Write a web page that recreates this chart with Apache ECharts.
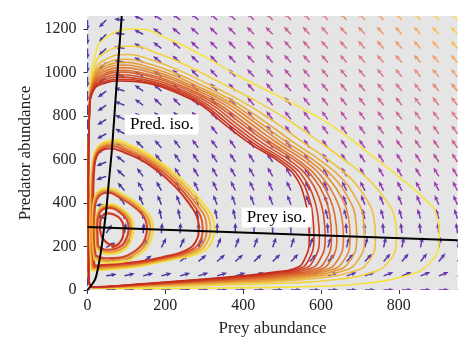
<!DOCTYPE html>
<html><head><meta charset="utf-8">
<script src="https://cdn.jsdelivr.net/npm/echarts@6/dist/echarts.min.js"></script>
<style>html,body{margin:0;padding:0;background:#fff}#c{width:474px;height:361px}</style>
</head><body><div id="c"></div>
<script>
// ---------- data ----------
const xTicks=[0,200,400,600,800];
const yTicks=[0,200,400,600,800,1000,1200];
const xAxisMax=951, yAxisMax=1259;

// vector field grid (columns / rows) and per-cell direction (deg) and speed level
const arrowX=[0,48,95,143,190,238,285,333,380,428,476,523,571,618,666,713,761,808,856,903,951];
const arrowY=[0,65,131,196,261,327,392,457,522,588,653,718,784,849,914,980,1045,1110,1175,1241];
const arrowAngle=[
[null,0,0,0,0,0,0,0,0,0,0,0,0,0,0,0,0,0,0,0,0],
[270,9,13,15,15,16,17,17,17,18,18,18,19,19,19,20,20,21,21,21,22],
[270,17,30,35,37,39,40,41,42,43,44,45,46,47,48,48,49,50,51,52,53],
[270,27,54,60,63,65,67,68,69,70,71,72,73,74,75,76,77,78,79,80,80],
[270,56,82,85,86,87,88,89,90,90,91,92,92,93,94,94,95,96,96,97,98],
[270,162,105,102,102,102,102,102,103,103,103,104,104,105,105,105,106,106,107,107,108],
[270,184,120,114,112,111,111,111,111,111,111,111,112,112,112,112,113,113,113,114,114],
[270,192,131,122,119,117,117,116,116,116,116,116,116,117,117,117,117,117,118,118,118],
[270,198,138,127,124,122,121,120,120,120,120,120,120,120,120,120,120,120,121,121,121],
[270,202,143,132,128,125,124,124,123,123,123,123,123,123,123,123,123,123,123,123,123],
[270,206,148,135,131,128,127,126,125,125,125,125,125,125,125,125,125,125,125,125,125],
[270,209,152,138,133,130,129,128,127,127,127,126,126,126,126,126,126,126,126,126,126],
[270,212,155,141,135,132,131,130,129,128,128,128,128,128,127,127,127,127,127,127,127],
[270,215,159,143,137,134,132,131,130,130,129,129,129,129,129,128,128,128,128,128,128],
[270,217,162,145,139,135,134,132,131,131,130,130,130,130,129,129,129,129,129,129,129],
[270,219,164,147,140,137,135,133,132,132,131,131,131,130,130,130,130,130,130,130,130],
[270,222,167,149,142,138,136,134,133,133,132,132,131,131,131,131,131,131,131,131,131],
[270,224,170,150,143,139,137,135,134,133,133,132,132,132,132,132,131,131,131,131,131],
[270,226,172,152,144,140,138,136,135,134,134,133,133,132,132,132,132,132,132,132,132],
[270,227,175,154,145,141,139,137,136,135,134,134,133,133,133,133,132,132,132,132,132]];
const arrowSpeed=[
[0,1,3,4,5,7,8,9,10,11,12,13,14,15,16,17,18,19,20,21,22],
[0,1,2,3,4,5,6,7,8,9,10,11,11,12,13,14,14,15,16,16,17],
[0,1,2,3,3,4,5,6,7,8,8,9,10,11,11,12,13,13,14,15,15],
[1,1,1,2,3,4,5,6,7,8,9,10,11,12,13,14,15,16,17,17,18],
[1,0,1,3,4,5,6,8,9,10,11,13,14,15,16,18,19,20,22,23,24],
[2,0,2,3,5,6,8,10,11,13,15,16,18,20,21,23,25,26,28,30,31],
[2,1,2,4,6,8,10,12,14,16,18,20,22,24,26,28,31,33,35,37,39],
[2,1,3,5,7,10,12,15,17,19,22,24,27,29,32,34,37,39,42,44,47],
[3,1,3,6,9,11,14,17,20,23,26,28,31,34,37,40,43,46,49,52,55],
[3,2,4,7,10,13,16,20,23,26,29,33,36,39,43,46,50,53,56,60,63],
[4,2,4,8,11,15,18,22,26,30,33,37,41,45,48,52,56,60,64,68,71],
[5,2,5,9,13,17,21,25,29,33,37,41,46,50,54,58,63,67,71,75,80],
[5,3,5,9,14,18,23,27,32,37,41,46,50,55,60,64,69,74,79,83,88],
[6,3,6,10,15,20,25,30,35,40,45,50,55,60,65,70,75,80,86,91,96],
[7,4,6,11,16,22,27,32,38,43,49,54,60,65,71,76,82,87,93,99,104],
[8,4,7,12,18,23,29,35,41,47,53,59,64,70,76,82,88,94,101,107,113],
[8,5,8,13,19,25,31,37,44,50,56,63,69,75,82,88,95,101,108,114,121],
[9,6,8,14,20,27,33,40,47,53,60,67,74,81,87,94,101,108,115,122,129],
[10,6,9,15,21,28,35,42,50,57,64,71,78,86,93,100,108,115,122,130,137],
[11,7,9,16,23,30,37,45,52,60,68,75,83,91,98,106,114,122,130,138,146]];

// large family of orbits (outer yellow -> inner red)
const big1=[[3,60],[14,8],[186,7],[400,11],[597,17],[708,30],[811,62],[880,125],[904,243],[897,345],[865,420],[811,505],[740,605],[673,698],[597,790],[494,888],[392,980],[304,1069],[218,1145],[125,1199],[48,1161],[20,1080],[5,852],[2,500],[3,60]];
const big2=[[3,60],[13,10],[174,15],[367,24],[532,33],[633,47],[718,74],[773,127],[794,243],[788,343],[764,420],[724,505],[662,595],[589,690],[515,782],[427,875],[339,955],[259,1028],[186,1083],[112,1120],[45,1091],[18,1026],[5,841],[2,500],[3,60]];
const big3=[[3,60],[13,11],[168,18],[351,30],[500,41],[596,55],[673,80],[721,127],[740,243],[735,343],[716,420],[681,505],[625,590],[548,686],[476,778],[395,869],[313,943],[237,1008],[170,1053],[105,1082],[44,1057],[18,999],[5,836],[2,500],[3,60]];
const big4=[[3,60],[13,11],[165,20],[342,34],[483,45],[576,60],[648,83],[692,128],[712,243],[708,342],[690,420],[658,505],[604,588],[525,684],[454,776],[377,866],[298,937],[225,997],[161,1037],[102,1060],[43,1037],[17,984],[5,833],[2,500],[3,60]];
const big5=[[3,60],[13,12],[163,22],[336,36],[471,48],[562,63],[631,85],[672,128],[692,243],[688,342],[671,420],[639,505],[588,588],[509,683],[439,774],[365,864],[288,932],[216,990],[155,1025],[99,1046],[43,1025],[17,974],[5,832],[2,500],[3,60]];
const big6=[[3,60],[13,12],[161,23],[331,38],[461,51],[551,66],[617,87],[656,128],[675,243],[670,342],[654,420],[623,505],[575,587],[496,681],[427,773],[355,862],[280,928],[209,983],[150,1016],[97,1034],[42,1014],[17,966],[5,830],[2,500],[3,60]];
const big7=[[3,60],[13,12],[159,24],[326,40],[451,53],[539,68],[603,89],[640,129],[658,243],[653,341],[638,420],[609,505],[563,586],[484,680],[414,772],[345,860],[272,925],[203,977],[145,1007],[95,1022],[42,1003],[16,958],[5,828],[2,500],[3,60]];
const big8=[[3,60],[12,13],[158,25],[321,42],[441,56],[528,71],[589,90],[623,129],[641,243],[636,341],[623,420],[596,505],[551,584],[471,679],[402,770],[334,858],[264,921],[196,971],[141,997],[93,1010],[42,993],[16,950],[5,827],[2,500],[3,60]];
const big9=[[3,60],[12,13],[156,26],[317,43],[433,58],[519,73],[578,92],[610,129],[627,243],[623,341],[611,420],[585,505],[542,583],[461,678],[392,769],[326,856],[258,918],[190,966],[137,990],[92,1001],[41,984],[16,943],[5,825],[2,500],[3,60]];
const big10=[[3,60],[12,13],[154,27],[312,45],[424,60],[507,76],[564,94],[594,129],[611,243],[607,341],[596,420],[572,505],[530,582],[448,677],[380,768],[316,855],[249,914],[183,960],[132,980],[90,989],[41,974],[16,935],[5,824],[2,500],[3,60]];
const big11=[[3,60],[12,14],[153,28],[308,47],[415,62],[497,78],[551,95],[579,130],[596,243],[592,340],[582,420],[560,505],[520,580],[436,676],[369,767],[307,853],[242,911],[177,954],[127,972],[88,978],[41,964],[15,927],[5,822],[2,500],[3,60]];
const big12=[[3,60],[12,14],[151,29],[303,49],[407,64],[488,80],[540,97],[566,130],[582,243],[579,340],[570,420],[549,505],[510,579],[426,675],[359,766],[299,851],[236,908],[172,949],[123,965],[86,968],[40,955],[15,921],[5,821],[2,500],[3,60]];
const big13=[[3,60],[12,14],[150,30],[300,50],[400,66],[480,82],[530,98],[555,130],[570,244],[567,340],[558,420],[540,505],[502,578],[417,674],[350,765],[292,850],[230,905],[167,945],[120,958],[85,960],[40,948],[15,915],[5,820],[2,500],[3,60]];

// middle family
const mid1=[[10,90],[60,95],[130,108],[209,137],[286,169],[317,215],[326,290],[320,340],[304,382],[253,490],[167,612],[110,665],[72,689],[45,682],[25,655],[14,600],[9,450],[7,250],[10,90]];
const mid2=[[12,96],[60,101],[130,114],[204,140],[277,172],[307,217],[316,290],[310,340],[295,382],[246,486],[163,605],[106,657],[69,679],[43,672],[25,646],[15,592],[10,450],[9,250],[12,96]];
const mid3=[[14,101],[60,106],[130,119],[200,144],[268,175],[298,218],[306,290],[301,339],[286,381],[239,482],[159,598],[102,648],[65,670],[41,662],[25,638],[16,585],[12,450],[10,250],[14,101]];
const mid4=[[16,106],[60,112],[130,124],[195,147],[259,177],[288,220],[296,289],[291,338],[277,380],[232,479],[154,592],[99,640],[62,660],[40,653],[25,629],[17,578],[13,450],[12,250],[16,106]];
const mid5=[[18,112],[60,118],[130,130],[190,150],[250,180],[278,222],[286,289],[281,338],[268,380],[225,475],[150,585],[95,632],[58,650],[38,643],[25,620],[18,570],[15,450],[14,250],[18,112]];

// small family near the equilibrium
const smallA1=[[18,140],[45,126],[90,130],[130,160],[158,210],[168,285],[160,340],[130,395],[90,440],[55,468],[35,462],[20,430],[14,370],[13,250],[18,140]];
const smallA2=[[20,149],[45,136],[87,140],[125,168],[151,215],[161,285],[153,337],[125,389],[87,431],[54,457],[36,452],[21,422],[16,365],[15,252],[20,149]];
const smallA3=[[21,158],[45,146],[85,149],[120,176],[144,220],[153,286],[146,334],[120,382],[85,422],[54,447],[36,441],[23,413],[18,360],[17,255],[21,158]];
const smallB1=[[24,185],[50,165],[80,172],[105,205],[118,285],[112,330],[90,370],[60,393],[40,388],[27,360],[21,300],[22,230],[24,185]];
const smallB2=[[26,193],[50,175],[77,181],[100,212],[112,285],[107,327],[86,364],[59,385],[40,380],[28,354],[23,299],[24,235],[26,193]];
const smallB3=[[27,202],[49,185],[74,191],[95,219],[106,286],[101,324],[83,357],[58,377],[41,372],[30,349],[25,298],[26,240],[27,202]];
const smallC=[[62,196],[80,212],[91,245],[93,285],[86,323],[68,347],[49,352],[37,337],[32,300],[34,258],[44,226],[58,208],[72,204],[82,214]];

// isoclines
const preyIso=[[0,289],[951,229]];
const predIso=[[0,0],[10,22],[20,50],[27,100],[33,160],[38,220],[43,290],[49,382],[55,500],[63,650],[75,950],[88,1259]];
const isoLabels=[{name:'Pred. iso.',value:[191,761]},{name:'Prey iso.',value:[486,333]}];

// ---------- styling ----------
const bigLoops=[big1,big2,big3,big4,big5,big6,big7,big8,big9,big10,big11,big12,big13];
const bigColors=['#f5e43c','#f1d33e','#edbd3e','#e9aa3b','#e69b38','#e38c35','#e07d32','#dc6e2e','#d8602b','#d45228','#cf4424','#ca3821','#c42d1e'];
const midLoops=[mid1,mid2,mid3,mid4,mid5];
const midColors=['#f4de3e','#eeb43c','#e58a34','#da5a2a','#cc3220'];
const smallLoops=[smallA1,smallA2,smallA3,smallB1,smallB2,smallB3,smallC];
const smallColors=['#f3da3e','#e7993a','#d2472a','#f3da3e','#e7993a','#d2472a','#cf3a20'];

const plasmaStops=['#0d0887','#41049d','#6a00a8','#8f0da4','#b12a90','#cc4778','#e16462','#f2844b','#fca636','#fcce25','#f0f921'];
function hex2rgb(h){return [parseInt(h.slice(1,3),16),parseInt(h.slice(3,5),16),parseInt(h.slice(5,7),16)];}
function plasma(t){t=Math.max(0,Math.min(1,t));const f=t*10;const i=Math.min(9,Math.floor(f));const r=f-i;
  const a=hex2rgb(plasmaStops[i]),b=hex2rgb(plasmaStops[i+1]);
  return 'rgb('+a.map((v,k)=>Math.round(v+(b[k]-v)*r)).join(',')+')';}

const arrowData=[];
arrowY.forEach((y,j)=>{arrowX.forEach((x,i)=>{const a=arrowAngle[j][i];if(a===null)return;arrowData.push([x,y,a,arrowSpeed[j][i]]);});});

const serif='"Liberation Serif","Times New Roman",serif';
const series=[];
series.push({type:'custom',coordinateSystem:'cartesian2d',clip:true,silent:true,z:1,data:arrowData,encode:{x:0,y:1},
  renderItem:function(params,api){
    const p=api.coord([api.value(0),api.value(1)]);
    const ang=api.value(2)*Math.PI/180;const m=api.value(3);
    const dx=Math.cos(ang),dy=-Math.sin(ang),nx=-dy,ny=dx;
    const L=10.5,hw=0.75,HW=2.3,HL=4.5;
    const P=(u,v)=>[p[0]+u*dx+v*nx,p[1]+u*dy+v*ny];
    return {type:'polygon',shape:{points:[P(0,-hw),P(L-HL,-hw),P(L-HL-1,-HW),P(L,0),P(L-HL-1,HW),P(L-HL,hw),P(0,hw)]},
      style:{fill:plasma(m/155),opacity:0.78}};
  }});
function addLoops(list,colors,width,z,sm){
  list.forEach((d,k)=>series.push({type:'line',data:d,smooth:sm,showSymbol:false,silent:true,z:z,
    lineStyle:{color:colors[k],width:width},animation:false}));
}
addLoops(bigLoops,bigColors,1.6,2,0.5);
addLoops(midLoops,midColors,2,2,0.45);
addLoops(smallLoops,smallColors,2.2,2,0.4);
series.push({type:'line',data:preyIso,showSymbol:false,silent:true,z:5,lineStyle:{color:'#000',width:2},animation:false});
series.push({type:'line',data:predIso,smooth:0.3,showSymbol:false,silent:true,z:5,lineStyle:{color:'#000',width:2},animation:false});
series.push({type:'scatter',data:isoLabels,symbolSize:1,itemStyle:{color:'rgba(0,0,0,0)'},z:10,silent:true,
  label:{show:true,position:'inside',formatter:'{b}',fontFamily:serif,fontSize:17,color:'#000',opacity:1,backgroundColor:'#fff',padding:[2,5,1,5]}});

const chart=echarts.init(document.getElementById('c'),null,{renderer:'canvas'});
chart.setOption({
  animation:false,
  backgroundColor:'#fff',
  grid:{left:87.5,top:16,width:370,height:274,show:true,backgroundColor:'#e5e5e5',borderWidth:0},
  xAxis:{type:'value',min:0,max:xAxisMax,interval:200,
    axisLine:{show:false},splitLine:{show:false},
    axisTick:{show:true,length:4,lineStyle:{color:'#333'},customValues:xTicks},
    axisLabel:{customValues:xTicks,fontFamily:serif,fontSize:16,color:'#222',margin:8,
      formatter:v=>xTicks.indexOf(v)>=0?String(v):''},
    name:'Prey abundance',nameLocation:'middle',nameGap:30,
    nameTextStyle:{fontFamily:serif,fontSize:17,color:'#222'}},
  yAxis:{type:'value',min:0,max:yAxisMax,interval:200,
    axisLine:{show:false},splitLine:{show:false},
    axisTick:{show:true,length:4,lineStyle:{color:'#333'},customValues:yTicks},
    axisLabel:{customValues:yTicks,fontFamily:serif,fontSize:16,color:'#222',margin:11,
      formatter:v=>yTicks.indexOf(v)>=0?String(v):''},
    name:'Predator abundance',nameLocation:'middle',nameGap:51,
    nameTextStyle:{fontFamily:serif,fontSize:17,color:'#222'}},
  series:series
});
</script></body></html>
